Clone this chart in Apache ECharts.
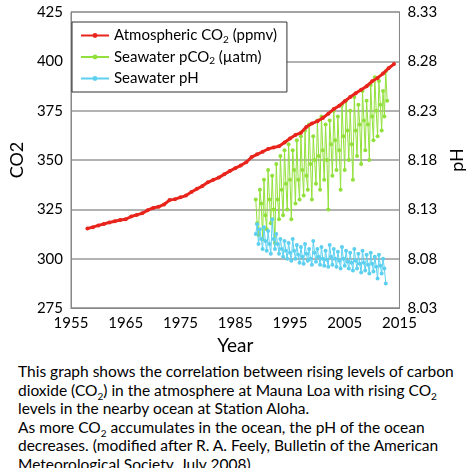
<!DOCTYPE html>
<html lang="en">
<head>
<meta charset="UTF-8">
<title>CO2 and pH</title>
<style>
  body { margin: 0; background: #fff; }
  #chart { width: 474px; height: 360px; }
  #caption { position: absolute; left: 18px; top: 362px; width: 438px;
    font-family: Lato, sans-serif; font-size: 15.5px; line-height: 18.5px; color: #000; }
  #caption sub { font-size: 10px; line-height: 0; }
</style>
</head>
<body>
<div id="chart"></div>
<div id="caption">This graph shows the correlation between rising levels of carbon dioxide (CO<sub>2</sub>) in the atmosphere at Mauna Loa with rising CO<sub>2</sub> levels in the nearby ocean at Station Aloha.<br>As more CO<sub>2</sub> accumulates in the ocean, the pH of the ocean decreases. (modified after R. A. Feely, Bulletin of the American Meteorological Society, July 2008).</div>
<script src="https://cdn.jsdelivr.net/npm/echarts@6/dist/echarts.min.js"></script>
<script>
var co2Years = [1958,1959,1960,1961,1962,1963,1964,1965,1966,1967,1968,1969,1970,1971,1972,1973,1974,1975,1976,1977,1978,1979,1980,1981,1982,1983,1984,1985,1986,1987,1988,1989,1990,1991,1992,1993,1994,1995,1996,1997,1998,1999,2000,2001,2002,2003,2004,2005,2006,2007,2008,2009,2010,2011,2012,2013,2014];
var co2Values = [315.3,316,316.9,317.6,318.4,319,319.6,320,321.4,322.2,323,324.6,325.7,326.3,327.5,329.7,330.2,331.1,332,333.8,335.4,336.8,338.7,340,341.1,342.8,344.4,345.9,347.2,348.9,351.5,352.9,354.2,355.6,356.4,357,358.9,360.9,362.7,363.8,366.8,368.5,369.7,371.3,373.5,375.8,377.5,379.8,381.9,383.8,385.6,387.4,389.9,391.6,393.8,396.5,398.6];

// seawater series, sampled roughly quarterly from late 1988
var seaStart = 1988.75, seaStep = 0.25;
var pco2Values = [330,318,312,335,328,310,340,322,315,345,330,318,342,325,308,348,330,320,352,335,322,355,338,325,358,340,320,355,345,328,360,340,330,362,345,332,365,342,335,368,348,330,362,350,338,370,352,335,372,355,340,368,350,325,370,358,342,375,360,345,372,355,335,378,362,345,380,365,350,375,358,340,382,365,352,378,368,348,385,370,355,380,368,350,388,372,360,392,375,362,390,378,365,385,372,395,380];
var phValues = [8.105,8.115,8.095,8.11,8.1,8.09,8.112,8.098,8.088,8.108,8.095,8.085,8.12,8.1,8.09,8.105,8.095,8.085,8.1,8.09,8.082,8.098,8.088,8.08,8.096,8.086,8.078,8.1,8.088,8.08,8.094,8.084,8.076,8.092,8.082,8.075,8.095,8.085,8.078,8.09,8.08,8.074,8.098,8.086,8.077,8.09,8.082,8.074,8.092,8.08,8.073,8.088,8.079,8.072,8.094,8.082,8.074,8.09,8.08,8.072,8.087,8.078,8.07,8.092,8.08,8.073,8.088,8.077,8.07,8.086,8.076,8.068,8.09,8.078,8.07,8.085,8.075,8.066,8.088,8.076,8.068,8.084,8.074,8.065,8.086,8.075,8.067,8.082,8.072,8.06,8.084,8.073,8.065,8.08,8.07,8.055];

function pairs(xs, ys) { return ys.map(function (v, i) { return [xs[i], v]; }); }
function seaPairs(ys) { return ys.map(function (v, i) { return [seaStart + i * seaStep, v]; }); }

var font = 'Lato, sans-serif';
var chart = echarts.init(document.getElementById('chart'));
chart.setOption({
  animation: false,
  textStyle: { fontFamily: font },
  grid: { left: 62, right: 56, top: 12, bottom: 47, show: true, borderColor: '#888', borderWidth: 1 },
  legend: {
    left: 72, top: 22, orient: 'vertical', itemGap: 5,
    backgroundColor: '#fff', borderColor: '#333', borderWidth: 1, padding: [6, 10, 6, 8],
    itemWidth: 28, itemHeight: 6,
    textStyle: { fontSize: 15, color: '#000', rich: { s: { fontSize: 10, verticalAlign: 'bottom', padding: [8, 0, 0, 0] } } },
    formatter: function (n) {
      if (n === 'co2') return 'Atmospheric CO{s|2} (ppmv)';
      if (n === 'pco2') return 'Seawater pCO{s|2} (µatm)';
      return 'Seawater pH';
    },
    data: ['co2', 'pco2', 'ph']
  },
  xAxis: {
    type: 'value', min: 1955, max: 2015, interval: 10,
    name: 'Year', nameLocation: 'middle', nameGap: 20,
    nameTextStyle: { fontSize: 19, color: '#000' },
    axisLine: { lineStyle: { color: '#888' } },
    axisTick: { show: false }, splitLine: { show: false },
    axisLabel: { fontSize: 15, color: '#000', formatter: function (v) { return String(v); } }
  },
  yAxis: [{
    type: 'value', min: 275, max: 425, interval: 25,
    name: 'CO2', nameLocation: 'middle', nameGap: 38,
    nameTextStyle: { fontSize: 18, color: '#000' },
    axisLine: { show: true, lineStyle: { color: '#888' } }, axisTick: { show: false },
    axisLabel: { fontSize: 15, color: '#000' },
    splitLine: { lineStyle: { color: '#999', width: 1.5 } }
  }, {
    type: 'value', min: 8.03, max: 8.33, interval: 0.05,
    name: 'pH', nameLocation: 'middle', nameGap: 44, nameRotate: 90,
    nameTextStyle: { fontSize: 18, color: '#000' },
    axisLine: { show: true, lineStyle: { color: '#888' } }, axisTick: { show: false },
    axisLabel: { fontSize: 15, color: '#000', formatter: function (v) { return v.toFixed(2); } },
    splitLine: { show: false }
  }],
  series: [{
    name: 'co2', type: 'line', data: pairs(co2Years, co2Values),
    symbol: 'circle', symbolSize: 4, showAllSymbol: true,
    lineStyle: { color: '#e8241c', width: 3 }, itemStyle: { color: '#e8241c' }, z: 5
  }, {
    name: 'pco2', type: 'line', data: seaPairs(pco2Values),
    symbol: 'circle', symbolSize: 4, showAllSymbol: true,
    lineStyle: { color: '#92e03c', width: 1 }, itemStyle: { color: '#92e03c' }, z: 3
  }, {
    name: 'ph', type: 'line', yAxisIndex: 1, data: seaPairs(phValues),
    symbol: 'circle', symbolSize: 4, showAllSymbol: true,
    lineStyle: { color: '#5dd0f0', width: 1 }, itemStyle: { color: '#5dd0f0' }, z: 4
  }]
});
</script>
</body>
</html>
